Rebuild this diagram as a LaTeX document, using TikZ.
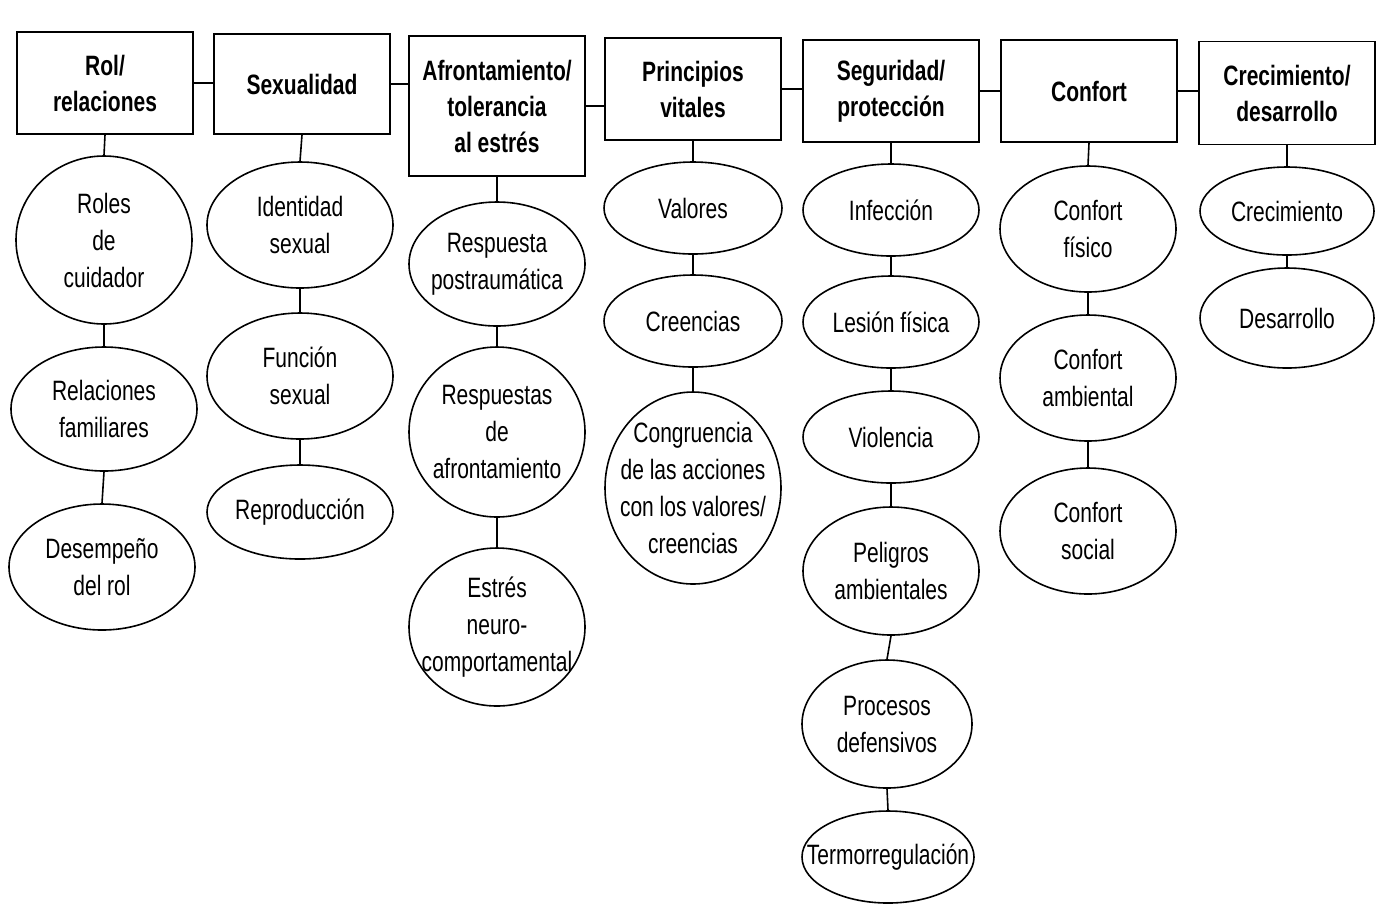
\documentclass[tikz,border=0pt]{standalone}
\usepackage{fontspec}
\setmainfont[FakeStretch=0.75]{Liberation Sans}
\usetikzlibrary{shapes.geometric}
\begin{document}
\begin{tikzpicture}[x=0.5pt,y=-0.5pt,
  cat/.style={draw,line width=0.8pt,minimum width=88pt,font=\bfseries\fontsize{14}{18}\selectfont,align=center,inner sep=0pt},
  el/.style={draw,ellipse,line width=0.8pt,inner sep=0pt},
  eltext/.style={font=\fontsize{14}{18.5}\selectfont,align=center,inner sep=0pt},
  ln/.style={line width=0.8pt}]
\useasboundingbox (0,0) rectangle (1396,918);
\fill[white] (0,0) rectangle (1396,918);
\newcommand\cbox[5]{\node[cat,minimum height=#4*0.5pt] (#1) at (#2,#3) {#5};}
\newcommand\cel[6]{\node[el,minimum width=#4pt,minimum height=#5pt] (#1) at (#2,#3) {}; \node[eltext] at (#2,#3) {#6};}
\cbox{b1}{105}{83}{102}{Rol/\\relaciones}
\cbox{b2}{302}{84}{100}{Sexualidad}
\cbox{b3}{497}{106}{140}{Afrontamiento/\\tolerancia\\al estrés}
\cbox{b4}{693}{89}{102}{Principios\\vitales}
\cbox{b5}{891}{91}{102}{Seguridad/\\protección}
\cbox{b6}{1089}{91}{102}{Confort}
\cbox{b7}{1287}{93}{103}{Crecimiento/\\desarrollo}
\foreach \a/\b in {b1/b2,b2/b3,b3/b4,b4/b5,b5/b6,b6/b7}{\draw[ln] (\a.east) -- (\a.east -| \b.west);}
\cel{a1}{104}{240}{88}{84}{Roles\\de\\cuidador}
\cel{a2}{104}{409}{93}{62}{Relaciones\\familiares}
\cel{a3}{102}{567}{93}{63}{Desempeño\\del rol}
\cel{c1}{300}{225}{93}{63}{Identidad\\sexual}
\cel{c2}{300}{376}{93}{63}{Función\\sexual}
\cel{c3}{300}{512}{93}{47}{Reproducción}
\cel{d1}{497}{264}{88}{62}{Respuesta\\postraumática}
\cel{d2}{497}{432}{88}{85}{Respuestas\\de\\afrontamiento}
\cel{d3}{497}{627}{88}{79}{Estrés\\neuro-\\comportamental}
\cel{e1}{693}{208}{89}{46}{Valores}
\cel{e2}{693}{321}{89}{46}{Creencias}
\cel{e3}{693}{488}{88}{96}{Congruencia\\de las acciones\\con los valores/\\creencias}
\cel{f1}{891}{210}{88}{46}{Infección}
\cel{f2}{891}{322}{88}{46}{Lesión física}
\cel{f3}{891}{437}{88}{46}{Violencia}
\cel{f4}{891}{571}{88}{64}{Peligros\\ambientales}
\cel{f5}{887}{724}{85}{64}{Procesos\\defensivos}
\cel{f6}{888}{857}{86}{46}{Termorregulación}
\cel{g1}{1088}{229}{88}{63}{Confort\\físico}
\cel{g2}{1088}{378}{88}{63}{Confort\\ambiental}
\cel{g3}{1088}{531}{88}{63}{Confort\\social}
\cel{h1}{1287}{211}{87}{44}{Crecimiento}
\cel{h2}{1287}{318}{87}{50}{Desarrollo}
\foreach \a/\b in {b1/a1,a1/a2,a2/a3,b2/c1,c1/c2,c2/c3,b3/d1,d1/d2,d2/d3,b4/e1,e1/e2,e2/e3,b5/f1,f1/f2,f2/f3,f3/f4,f4/f5,f5/f6,b6/g1,g1/g2,g2/g3,b7/h1,h1/h2}{\draw[ln] (\a.south) -- (\b.north);}
\end{tikzpicture}
\end{document}
